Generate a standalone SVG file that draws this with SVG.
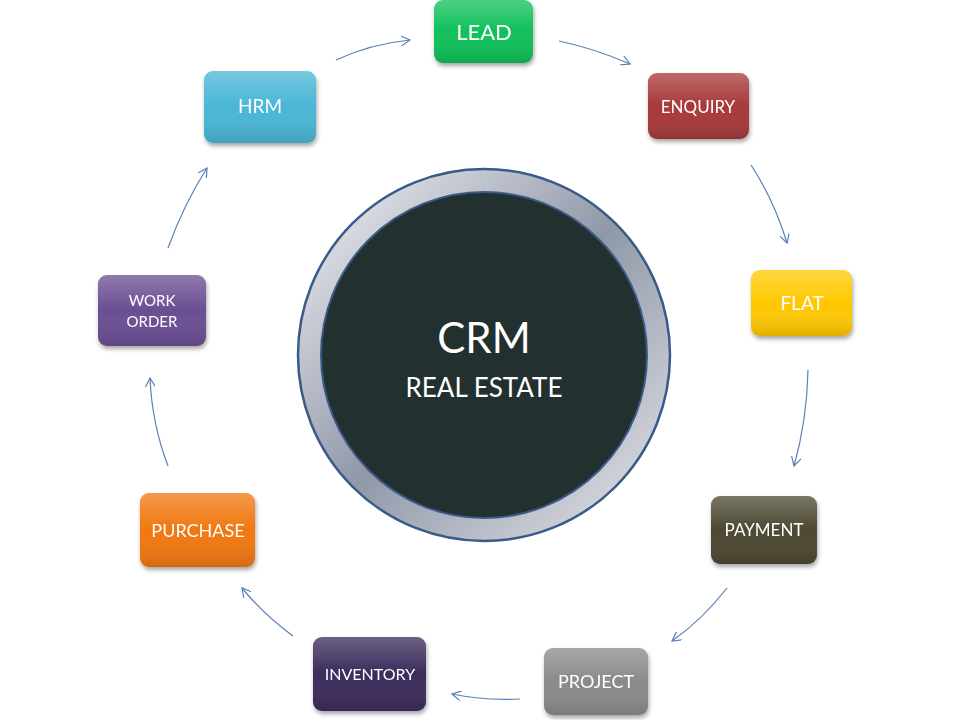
<svg xmlns="http://www.w3.org/2000/svg" width="960" height="720" viewBox="0 0 960 720">
<defs>
<style>
.lbl{font-family:Lato,"Open Sans",sans-serif;fill:#fff;text-anchor:middle}
.c{fill:none;stroke:#5a80b8;stroke-width:1.2}
</style>
<marker id="ah" viewBox="0 0 10 10" refX="9" refY="5" markerWidth="10" markerHeight="10" markerUnits="userSpaceOnUse" orient="auto">
<path d="M0,0 L9,5 L0,10" fill="none" stroke="#5a80b8" stroke-width="1.2"/>
</marker>
<linearGradient id="shine" x1="0" y1="0" x2="0" y2="1">
<stop offset="0" stop-color="#fff" stop-opacity="0.25"/>
<stop offset="0.5" stop-color="#fff" stop-opacity="0"/>
<stop offset="1" stop-color="#000" stop-opacity="0.12"/>
</linearGradient>
<linearGradient id="ring" x1="0" y1="0" x2="1" y2="1">
<stop offset="0" stop-color="#f4f4f6"/>
<stop offset="0.5" stop-color="#9098a8"/>
<stop offset="1" stop-color="#e8e8ec"/>
</linearGradient>
<filter id="sh" x="-20%" y="-20%" width="140%" height="150%">
<feDropShadow dx="1" dy="3" stdDeviation="2" flood-opacity="0.35"/>
</filter>
</defs>
<rect width="960" height="720" fill="#fff"/>
<g id="center">
<circle cx="484" cy="355" r="186" fill="url(#ring)" stroke="#3a5a8a" stroke-width="2.5"/>
<circle cx="484" cy="355" r="163" fill="#233030" stroke="#3a5a8a" stroke-width="2"/>
<text class="lbl" x="484" y="353" font-size="42">CRM</text>
<text class="lbl" x="484" y="397" font-size="26">REAL ESTATE</text>
</g>
<g id="connectors">
<path class="c" marker-end="url(#ah)" d="M336,60 Q370,44 410,40"/>
<path class="c" marker-end="url(#ah)" d="M559,41 Q596,49 630,64"/>
<path class="c" marker-end="url(#ah)" d="M751,165 Q774,200 787,243"/>
<path class="c" marker-end="url(#ah)" d="M808,370 Q807,420 794,466"/>
<path class="c" marker-end="url(#ah)" d="M727,588 Q702,620 672,641"/>
<path class="c" marker-end="url(#ah)" d="M520,699 Q486,701 452,694"/>
<path class="c" marker-end="url(#ah)" d="M293,636 Q264,615 242,588"/>
<path class="c" marker-end="url(#ah)" d="M168,466 Q152,424 150,378"/>
<path class="c" marker-end="url(#ah)" d="M168,248 Q184,204 207,168"/>
</g>
<g id="lead" filter="url(#sh)"><rect x="434" y="0" width="99" height="63" rx="9" fill="#10c05a"/><rect x="434" y="0" width="99" height="63" rx="9" fill="url(#shine)"/><text class="lbl" x="484" y="40" font-size="22">LEAD</text></g>
<g id="enquiry" filter="url(#sh)"><rect x="648" y="73" width="101" height="66" rx="9" fill="#a8393a"/><rect x="648" y="73" width="101" height="66" rx="9" fill="url(#shine)"/><text class="lbl" x="698" y="113" font-size="17">ENQUIRY</text></g>
<g id="flat" filter="url(#sh)"><rect x="751" y="270" width="101" height="66" rx="9" fill="#ffc800"/><rect x="751" y="270" width="101" height="66" rx="9" fill="url(#shine)"/><text class="lbl" x="802" y="310" font-size="19">FLAT</text></g>
<g id="payment" filter="url(#sh)"><rect x="711" y="496" width="106" height="68" rx="9" fill="#4c4832"/><rect x="711" y="496" width="106" height="68" rx="9" fill="url(#shine)"/><text class="lbl" x="764" y="536" font-size="17">PAYMENT</text></g>
<g id="project" filter="url(#sh)"><rect x="544" y="648" width="104" height="67" rx="9" fill="#8a8a8a"/><rect x="544" y="648" width="104" height="67" rx="9" fill="url(#shine)"/><text class="lbl" x="596" y="688" font-size="18">PROJECT</text></g>
<g id="inventory" filter="url(#sh)"><rect x="313" y="637" width="113" height="74" rx="9" fill="#3c2c5c"/><rect x="313" y="637" width="113" height="74" rx="9" fill="url(#shine)"/><text class="lbl" x="370" y="680" font-size="16">INVENTORY</text></g>
<g id="purchase" filter="url(#sh)"><rect x="140" y="493" width="115" height="74" rx="9" fill="#f07810"/><rect x="140" y="493" width="115" height="74" rx="9" fill="url(#shine)"/><text class="lbl" x="198" y="537" font-size="18">PURCHASE</text></g>
<g id="workorder" filter="url(#sh)"><rect x="98" y="275" width="108" height="71" rx="9" fill="#6a4e92"/><rect x="98" y="275" width="108" height="71" rx="9" fill="url(#shine)"/><text class="lbl" x="152" y="306" font-size="15">WORK</text><text class="lbl" x="152" y="327" font-size="15">ORDER</text></g>
<g id="hrm" filter="url(#sh)"><rect x="204" y="71" width="112" height="72" rx="9" fill="#4ab6d6"/><rect x="204" y="71" width="112" height="72" rx="9" fill="url(#shine)"/><text class="lbl" x="260" y="113" font-size="19">HRM</text></g>
</svg>
